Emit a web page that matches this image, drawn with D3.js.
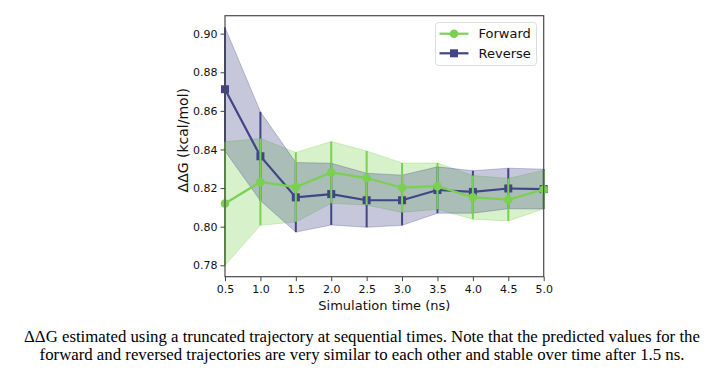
<!DOCTYPE html>
<html>
<head>
<meta charset="utf-8">
<script src="https://cdn.jsdelivr.net/npm/d3@7"></script>
<style>
  body { margin: 0; background: #fff; }
  svg { display: block; }
</style>
</head>
<body>
<svg id="chart"></svg>
<script>
// simulation times (ns)
const times = [0.5, 1.0, 1.5, 2.0, 2.5, 3.0, 3.5, 4.0, 4.5, 5.0];

// forward trajectory ddG and its error
const forwardMean = [0.812, 0.8232, 0.8205, 0.8281, 0.8252, 0.8202, 0.821, 0.8152, 0.814, 0.8193];
const forwardErr = [0.032, 0.0225, 0.018, 0.016, 0.014, 0.0128, 0.012, 0.0113, 0.011, 0.010];

// reverse trajectory ddG and its error
const reverseMean = [0.8712, 0.8365, 0.8152, 0.8169, 0.8137, 0.8137, 0.819, 0.818, 0.8198, 0.8195];
const reverseErr = [0.032, 0.023, 0.018, 0.016, 0.014, 0.013, 0.012, 0.011, 0.0105, 0.0103];

const yTicks = [0.78, 0.80, 0.82, 0.84, 0.86, 0.88, 0.90];
const xTicks = times;

const captionLines = [
  "\u0394\u0394G estimated using a truncated trajectory at sequential times. Note that the predicted values for the",
  "forward and reversed trajectories are very similar to each other and stable over time after 1.5 ns."
];

const width = 720, height = 374;
const margin = { left: 225, right: 176.3, top: 15.7, bottom: 97.3 };

const greenCol = "#7ad151";
const navyCol = "#414487";

const svg = d3.select("#chart")
  .attr("width", width)
  .attr("height", height)
  .attr("viewBox", [0, 0, width, height]);

const x = d3.scaleLinear().domain([0.5, 5.0]).range([margin.left, width - margin.right]);
const y = d3.scaleLinear().domain([0.7741, 0.9093]).range([height - margin.bottom, margin.top]);

const series = [
  { name: "Reverse", mean: reverseMean, err: reverseErr, color: navyCol, marker: "square" },
  { name: "Forward", mean: forwardMean, err: forwardErr, color: greenCol, marker: "circle" }
];

//build point tables
series.forEach(s => {
  s.points = times.map((t, i) => ({ t: t, m: s.mean[i], e: s.err[i] }));
});

const plot = svg.append("g");

//bands first (forward then reverse)
const area = d3.area()
  .x(d => x(d.t))
  .y0(d => y(d.m - d.e))
  .y1(d => y(d.m + d.e));

[series[1], series[0]].forEach(s => {
  plot.append("path")
    .datum(s.points)
    .attr("d", area)
    .attr("fill", s.color)
    .attr("fill-opacity", 0.3)
    .attr("stroke", s.color)
    .attr("stroke-opacity", 0.3)
    .attr("stroke-width", 1);
});

const line = d3.line().x(d => x(d.t)).y(d => y(d.m));

//lines, markers, then errorbars on top
series.forEach(s => {
  const g = plot.append("g");
  g.append("path")
    .datum(s.points)
    .attr("d", line)
    .attr("fill", "none")
    .attr("stroke", s.color)
    .attr("stroke-width", 2.2);

  if (s.marker == "circle") {
    g.selectAll("circle")
      .data(s.points)
      .join("circle")
      .attr("cx", d => x(d.t))
      .attr("cy", d => y(d.m))
      .attr("r", 4.3)
      .attr("fill", s.color);
  } else {
    g.selectAll("rect")
      .data(s.points)
      .join("rect")
      .attr("x", d => x(d.t) - 4)
      .attr("y", d => y(d.m) - 4)
      .attr("width", 8)
      .attr("height", 8)
      .attr("fill", s.color);
  }

  g.selectAll("line.err")
    .data(s.points)
    .join("line")
    .attr("class", "err")
    .attr("x1", d => x(d.t))
    .attr("x2", d => x(d.t))
    .attr("y1", d => y(d.m - d.e))
    .attr("y2", d => y(d.m + d.e))
    .attr("stroke", s.color)
    .attr("stroke-width", 2);
});

//frame
const fontAx = "'DejaVu Sans', sans-serif";
svg.append("rect")
  .attr("x", margin.left)
  .attr("y", margin.top)
  .attr("width", width - margin.right - margin.left)
  .attr("height", height - margin.bottom - margin.top)
  .attr("fill", "none")
  .attr("stroke", "#4a4a4a")
  .attr("stroke-width", 1.2);

//axes
const xAxis = svg.append("g")
  .attr("transform", `translate(0,${height - margin.bottom})`)
  .call(d3.axisBottom(x).tickValues(xTicks).tickFormat(d3.format(".1f")).tickSize(4.5).tickPadding(4));
const yAxis = svg.append("g")
  .attr("transform", `translate(${margin.left},0)`)
  .call(d3.axisLeft(y).tickValues(yTicks).tickFormat(d3.format(".2f")).tickSize(4.5).tickPadding(3));

[xAxis, yAxis].forEach(a => {
  a.select(".domain").remove();
  a.selectAll(".tick line").attr("stroke", "#444");
  a.selectAll(".tick text")
    .attr("fill", "#111")
    .style("font-family", fontAx)
    .style("font-size", "11px");
});

svg.append("text")
  .attr("x", (margin.left + width - margin.right) / 2)
  .attr("y", 310)
  .attr("text-anchor", "middle")
  .attr("fill", "#111")
  .style("font-family", fontAx)
  .style("font-size", "13px")
  .text("Simulation time (ns)");

svg.append("text")
  .attr("transform", `translate(188,${(margin.top + height - margin.bottom) / 2 - 6}) rotate(-90)`)
  .attr("text-anchor", "middle")
  .attr("fill", "#111")
  .style("font-family", fontAx)
  .style("font-size", "14px")
  .text("\u0394\u0394G (kcal/mol)");

//legend
const leg = svg.append("g").attr("transform", "translate(435.5,22.5)");
leg.append("rect")
  .attr("width", 101)
  .attr("height", 43)
  .attr("rx", 3)
  .attr("fill", "#fff")
  .attr("fill-opacity", 0.8)
  .attr("stroke", "#ddd");

const legItems = [series[1], series[0]];
legItems.forEach((s, i) => {
  const yy = 11.2 + i * 19.6;
  leg.append("line")
    .attr("x1", 4).attr("x2", 33)
    .attr("y1", yy).attr("y2", yy)
    .attr("stroke", s.color)
    .attr("stroke-width", 2.2);
  if (s.marker == "circle")
    leg.append("circle").attr("cx", 18.5).attr("cy", yy).attr("r", 4.3).attr("fill", s.color);
  else
    leg.append("rect").attr("x", 14.5).attr("y", yy - 4).attr("width", 8).attr("height", 8).attr("fill", s.color);
  leg.append("text")
    .attr("x", 43)
    .attr("y", yy)
    .attr("dy", "0.35em")
    .attr("fill", "#111")
    .style("font-family", fontAx)
    .style("font-size", "13px")
    .text(s.name);
});

//caption
svg.selectAll("text.caption")
  .data(captionLines)
  .join("text")
  .attr("class", "caption")
  .attr("x", width / 2 + 2)
  .attr("y", (d, i) => 341.5 + i * 18.7)
  .attr("text-anchor", "middle")
  .attr("fill", "#000")
  .style("font-family", "'Liberation Serif', 'Times New Roman', serif")
  .style("font-size", "16.8px")
  .text(d => d);
</script>
</body>
</html>
